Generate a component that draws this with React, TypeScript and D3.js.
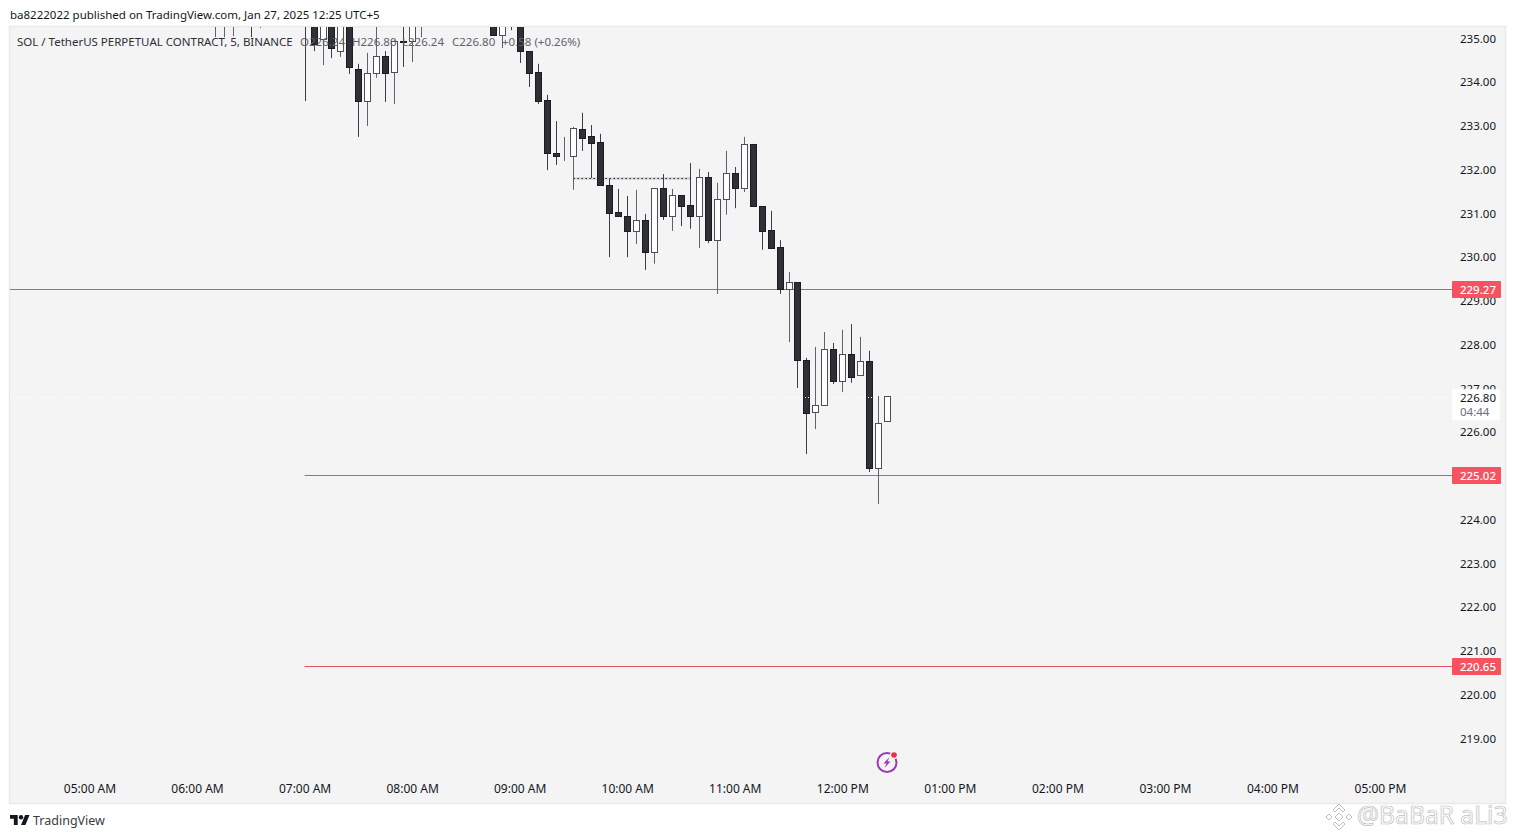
import { useEffect, useRef } from 'react';
import * as d3 from 'd3';

const WIDTH = 1515;
const HEIGHT = 838;
const FONT = '"Noto Sans", sans-serif';

// 5 minute bars, the first one is 06:10 AM. Bars above 235.25 are off the top of the pane, so those are estimates
const firstBar = Date.UTC(2025, 0, 27, 6, 10);
const barMinutes = 5;

const opens = [
    235.6, 235.7, 235.8, 235.9, 235.8, 235.7, 235.8, 235.9, 236.0, 235.9,
    235.6, 235.5, 234.96, 235.4, 234.70, 235.3, 234.29, 233.54, 234.18, 234.57,
    234.22, 234.91, 234.91, 235.4, 235.7, 235.9, 236.1, 236.2, 236.1, 235.9,
    235.7, 235.6, 235.05, 235.6, 235.5, 234.70, 234.22, 233.58, 232.35, 232.30,
    232.28, 232.92, 232.74, 232.62, 231.64, 231.02, 230.93, 230.57, 230.82, 230.09,
    231.55, 230.91, 231.39, 231.18, 230.91, 231.80, 230.36, 231.30, 231.91, 231.55,
    232.56, 231.14, 230.59, 230.22, 229.24, 229.42, 227.64, 226.43, 226.60, 227.87,
    227.14, 227.76, 227.28, 227.60, 225.17, 226.24,
];
const highs = [
    235.8, 235.9, 236.0, 236.0, 235.9, 235.9, 236.0, 236.1, 236.1, 236.0,
    235.7, 235.6, 235.6, 235.5, 235.4, 235.4, 234.41, 234.66, 235.3, 234.70,
    234.95, 235.4, 235.6, 235.8, 235.9, 236.1, 236.3, 236.3, 236.2, 236.0,
    235.9, 235.7, 235.6, 235.7, 235.6, 234.70, 234.41, 233.70, 233.10, 232.74,
    232.97, 233.29, 233.01, 232.81, 231.78, 231.55, 231.39, 231.53, 230.98, 231.55,
    231.89, 231.55, 231.39, 232.14, 232.01, 231.94, 231.69, 232.42, 232.05, 232.74,
    232.58, 231.16, 231.05, 230.38, 229.65, 229.42, 227.69, 227.94, 228.28, 228.03,
    228.33, 228.46, 228.17, 227.85, 226.82, 226.80,
];
const lows = [
    235.02, 235.02, 235.04, 235.5, 235.02, 235.23, 235.6, 235.7, 235.7, 235.5,
    233.56, 234.70, 234.38, 234.54, 234.57, 234.18, 232.74, 232.99, 234.09, 233.54,
    233.49, 234.34, 234.45, 235.02, 235.5, 235.6, 235.8, 235.9, 235.7, 235.6,
    235.4, 235.05, 234.77, 235.18, 234.43, 233.88, 233.49, 231.98, 232.10, 232.19,
    231.53, 232.42, 231.80, 231.62, 229.99, 230.91, 229.99, 230.29, 229.70, 229.84,
    230.84, 230.59, 230.70, 230.64, 230.20, 230.31, 229.15, 230.96, 231.11, 231.48,
    231.14, 230.16, 230.20, 229.15, 228.05, 227.00, 225.49, 226.06, 226.60, 227.09,
    226.91, 227.12, 227.28, 225.08, 224.35, 226.24,
];
const closes = [
    235.7, 235.8, 235.9, 235.8, 235.7, 235.8, 235.9, 236.0, 235.9, 235.7,
    235.5, 234.84, 235.5, 234.75, 235.3, 234.32, 233.54, 234.18, 234.57, 234.18,
    234.91, 234.90, 235.5, 235.7, 235.9, 236.1, 236.2, 236.1, 235.9, 235.7,
    235.6, 235.05, 235.5, 235.5, 234.70, 234.20, 233.54, 232.35, 232.28, 232.30,
    232.94, 232.71, 232.60, 231.62, 231.00, 230.91, 230.57, 230.82, 230.09, 231.55,
    230.91, 231.39, 231.16, 230.91, 231.80, 230.36, 231.30, 231.91, 231.55, 232.56,
    231.14, 230.57, 230.20, 229.26, 229.40, 227.62, 226.41, 226.61, 227.87, 227.16,
    227.76, 227.25, 227.60, 225.17, 226.20, 226.80,
];

const priceTicks = [235, 234, 233, 232, 231, 230, 229, 228, 227, 226, 225, 224, 223, 222, 221, 220, 219];
const timeLabels = [
    '05:00 AM', '06:00 AM', '07:00 AM', '08:00 AM', '09:00 AM', '10:00 AM',
    '11:00 AM', '12:00 PM', '01:00 PM', '02:00 PM', '03:00 PM', '04:00 PM', '05:00 PM',
];
const timeTicks = timeLabels.map((_, i) => new Date(Date.UTC(2025, 0, 27, 5 + i)));

// Horizontal levels: price and the bar they start from (-1 runs from the pane edge)
const levelPrices = [229.27, 225.02, 220.65];
const levelStarts = [-1, 10, 10];

const lastPrice = 226.80;
const countdown = '04:44';
const dottedLevel = 231.8;
const dottedFrom = 40;
const dottedTo = 53;

const pane = { left: 10, right: 1505, top: 27, bottom: 803 };

export default function App() {
    const svgRef = useRef<SVGSVGElement>(null);

    useEffect(() => {
        if (!svgRef.current) return;

        const svg = d3.select(svgRef.current);
        svg.selectAll('*').remove();

        const xScale = d3.scaleUtc()
            .domain([timeTicks[0], timeTicks[timeTicks.length - 1]])
            .range([89.5, 1380]);
        const yScale = d3.scaleLinear().domain([235, 219]).range([38.5, 738.5]);

        const barTime = (i: number) => new Date(firstBar + i * barMinutes * 60000);
        const crisp = (v: number) => Math.round(v) + 0.5;

        svg.append('defs').append('clipPath').attr('id', 'paneClip')
            .append('rect')
            .attr('x', pane.left)
            .attr('y', pane.top)
            .attr('width', pane.right - pane.left)
            .attr('height', pane.bottom - pane.top);

        // Header line
        svg.append('text')
            .attr('x', 10)
            .attr('y', 19)
            .attr('font-size', 11.5)
            .attr('fill', '#131722')
            .text('ba8222022 published on TradingView.com, Jan 27, 2025 12:25 UTC+5');

        // Pane background
        svg.append('rect')
            .attr('x', pane.left - 0.5)
            .attr('y', pane.top - 0.5)
            .attr('width', pane.right - pane.left + 1)
            .attr('height', pane.bottom - pane.top + 1)
            .attr('fill', '#f4f4f4')
            .attr('stroke', '#e9e9e9')
            .attr('stroke-width', 1.5);

        const plot = svg.append('g').attr('clip-path', 'url(#paneClip)');

        // Dotted level with its light band
        const dottedY = crisp(yScale(dottedLevel));
        const dottedX1 = xScale(barTime(dottedFrom));
        const dottedX2 = xScale(barTime(dottedTo));
        plot.append('line')
            .attr('x1', dottedX1)
            .attr('x2', dottedX2)
            .attr('y1', dottedY)
            .attr('y2', dottedY)
            .attr('stroke', '#dcdce0')
            .attr('stroke-width', 3);
        plot.append('line')
            .attr('x1', dottedX1)
            .attr('x2', dottedX2)
            .attr('y1', dottedY)
            .attr('y2', dottedY)
            .attr('stroke', '#1a1c22')
            .attr('stroke-width', 1.2)
            .attr('stroke-dasharray', '1.5,2.5');

        // Red levels
        levelPrices.forEach((price, i) => {
            const y = crisp(yScale(price));
            const x1 = levelStarts[i] < 0 ? pane.left : xScale(barTime(levelStarts[i]));
            plot.append('line')
                .attr('x1', x1)
                .attr('x2', 1452)
                .attr('y1', y)
                .attr('y2', y)
                .attr('stroke', '#e8505f')
                .attr('stroke-width', 1);
        });

        // Candles
        const bars = d3.range(opens.length);
        const candle = plot.append('g')
            .selectAll('g')
            .data(bars)
            .enter()
            .append('g');

        const bodyTop = (i: number) => crisp(yScale(Math.max(opens[i], closes[i])) - 1);
        const bodyBottom = (i: number) => crisp(yScale(Math.min(opens[i], closes[i])) - 1);

        candle.append('line')
            .attr('x1', i => crisp(xScale(barTime(i))))
            .attr('x2', i => crisp(xScale(barTime(i))))
            .attr('y1', i => yScale(highs[i]) - 0.5)
            .attr('y2', i => yScale(lows[i]) - 0.5)
            .attr('stroke', i => (closes[i] >= opens[i] ? '#5f626c' : '#3b3e46'))
            .attr('stroke-width', 1);

        candle.append('rect')
            .attr('x', i => crisp(xScale(barTime(i))) - 3)
            .attr('width', 6)
            .attr('y', bodyTop)
            .attr('height', i => bodyBottom(i) - bodyTop(i))
            .attr('fill', i => (closes[i] >= opens[i] ? '#ffffff' : '#2f3036'))
            .attr('stroke', i => (closes[i] >= opens[i] ? '#4c4f59' : '#1a1c22'))
            .attr('stroke-width', 1);

        // Last price line goes over the candles
        plot.append('line')
            .attr('x1', pane.left)
            .attr('x2', 1452)
            .attr('y1', crisp(yScale(lastPrice)))
            .attr('y2', crisp(yScale(lastPrice)))
            .attr('stroke', '#ffffff')
            .attr('stroke-width', 1)
            .attr('stroke-dasharray', '1,2');

        // Symbol legend, sits on top of the candles
        const legend = svg.append('g').attr('font-size', 11.5);
        legend.append('text')
            .attr('x', 17)
            .attr('y', 46)
            .attr('fill', '#2c2f38')
            .text('SOL / TetherUS PERPETUAL CONTRACT, 5, BINANCE');
        const legendParts: [number, string][] = [
            [300, 'O226.24'],
            [352, 'H226.80'],
            [402, 'L226.24'],
            [452, 'C226.80'],
            [502, '+0.58 (+0.26%)'],
        ];
        legendParts.forEach(([x, label]) => {
            legend.append('text')
                .attr('x', x)
                .attr('y', 46)
                .attr('fill', '#5f626c')
                .text(label);
        });

        // Time axis
        const timeAxis = d3.axisBottom(xScale)
            .tickValues(timeTicks)
            .tickSize(0)
            .tickPadding(0)
            .tickFormat((_, i) => timeLabels[i]);
        const timeG = svg.append('g')
            .attr('transform', 'translate(0,784)')
            .call(timeAxis);
        timeG.select('.domain').remove();
        timeG.selectAll('text')
            .attr('font-size', 12)
            .attr('font-family', FONT)
            .attr('fill', '#131722');

        // Price axis
        const priceAxis = d3.axisRight(yScale)
            .tickValues(priceTicks)
            .tickSize(0)
            .tickPadding(0)
            .tickFormat(d => d3.format('.2f')(d as number));
        const priceG = svg.append('g')
            .attr('transform', 'translate(1496,0)')
            .call(priceAxis);
        priceG.select('.domain').remove();
        priceG.selectAll('text')
            .attr('text-anchor', 'end')
            .attr('font-size', 11.5)
            .attr('font-family', FONT)
            .attr('fill', '#131722');

        // Price tags
        levelPrices.forEach(price => {
            const y = crisp(yScale(price));
            svg.append('rect')
                .attr('x', 1452)
                .attr('y', y - 8.5)
                .attr('width', 49)
                .attr('height', 17)
                .attr('rx', 1)
                .attr('fill', '#f7525f');
            svg.append('text')
                .attr('x', 1496)
                .attr('y', y + 4)
                .attr('text-anchor', 'end')
                .attr('font-size', 11.5)
                .attr('font-weight', 500)
                .attr('fill', '#ffffff')
                .text(price.toFixed(2));
        });

        const lastY = yScale(lastPrice);
        svg.append('rect')
            .attr('x', 1452)
            .attr('y', lastY - 8)
            .attr('width', 48)
            .attr('height', 31)
            .attr('fill', '#ffffff');
        svg.append('text')
            .attr('x', 1496)
            .attr('y', lastY + 4.5)
            .attr('text-anchor', 'end')
            .attr('font-size', 11.5)
            .attr('fill', '#131722')
            .text(lastPrice.toFixed(2));
        svg.append('text')
            .attr('x', 1460)
            .attr('y', lastY + 19)
            .attr('font-size', 11.5)
            .attr('fill', '#6a6d78')
            .text(countdown);

        // Flash icon on the time axis
        const flash = svg.append('g').attr('transform', 'translate(887,762.5)');
        flash.append('circle')
            .attr('r', 9.5)
            .attr('fill', 'none')
            .attr('stroke', '#9c39b8')
            .attr('stroke-width', 2);
        flash.append('path')
            .attr('d', 'M2.5,-5.5 L-3.5,1 L-0.5,1 L-2.5,5.5 L3.5,-1 L0.5,-1 Z')
            .attr('fill', '#9c39b8');
        flash.append('circle')
            .attr('cx', 7)
            .attr('cy', -7.5)
            .attr('r', 4)
            .attr('fill', '#f4f4f4');
        flash.append('circle')
            .attr('cx', 7)
            .attr('cy', -7.5)
            .attr('r', 2.8)
            .attr('fill', '#ef2f45');

        // TradingView logo
        const logo = svg.append('g')
            .attr('transform', 'translate(10,812.8) scale(0.55)')
            .attr('fill', '#131722');
        logo.append('path').attr('d', 'M14 22H7V11H0V4h14v18zM28 22h-8l7.5-18h8L28 22z');
        logo.append('circle').attr('cx', 20).attr('cy', 8).attr('r', 4);
        svg.append('text')
            .attr('x', 33)
            .attr('y', 825)
            .attr('font-size', 12.5)
            .attr('fill', '#3a3d46')
            .text('TradingView');

        // Watermark
        const mark = svg.append('g')
            .attr('transform', 'translate(1339,817)')
            .attr('fill', '#ffffff')
            .attr('stroke', '#b8b8b8')
            .attr('stroke-width', 0.9);
        const chevrons = [
            'M-6,-7 L0,-13 L6,-7 L4,-5 L0,-9 L-4,-5 Z',
            'M-6,7 L0,13 L6,7 L4,5 L0,9 L-4,5 Z',
            'M-13,0 L-10,-3 L-7,0 L-10,3 Z',
            'M13,0 L10,-3 L7,0 L10,3 Z',
            'M0,-4 L4,0 L0,4 L-4,0 Z',
        ];
        chevrons.forEach(d => mark.append('path').attr('d', d));
        svg.append('text')
            .attr('x', 1357)
            .attr('y', 824)
            .attr('font-size', 24.6)
            .attr('fill', '#ffffff')
            .attr('stroke', '#bdbdbd')
            .attr('stroke-width', 0.7)
            .text('@BaBaR aLi3');
    }, []);

    return (
        <svg
            ref={svgRef}
            width={WIDTH}
            height={HEIGHT}
            style={{ position: 'absolute', left: 0, top: 0, display: 'block', background: '#ffffff', fontFamily: FONT }}
        />
    );
}
